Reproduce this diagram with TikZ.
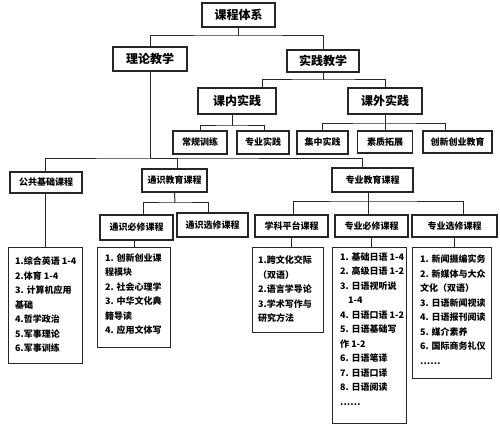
\documentclass[tikz,border=0pt]{standalone}
\usepackage{fontspec}
\setmainfont{Noto Sans CJK SC}
\begin{document}
\begin{tikzpicture}[x=1pt,y=-1pt,
  box/.style={draw=black!85, line width=1.1pt, inner sep=0pt, font=\bfseries\fontsize{12}{14}\selectfont},
  sbox/.style={box, font=\bfseries\fontsize{9}{11}\selectfont},
  lbox/.style={draw=black!85, line width=1.1pt, inner sep=0pt, anchor=north west},
  ltext/.style={inner sep=0pt, anchor=north west, align=left, font=\bfseries\fontsize{9}{14.5}\selectfont},
  conn/.style={draw=black!85, line width=1pt}]
\useasboundingbox (0,0) rectangle (500,430);
% level 1-2
\node[box, minimum width=73pt, minimum height=24pt] (top) at (238.5,15) {课程体系};
\node[box, minimum width=74pt, minimum height=24pt] (ll) at (150,59) {理论教学};
\node[box, minimum width=72pt, minimum height=22pt] (sj) at (323,61) {实践教学};
\node[box, minimum width=78pt, minimum height=26pt] (kn) at (237,101) {课内实践};
\node[box, minimum width=74pt, minimum height=26pt] (kw) at (385,101) {课外实践};
\node[sbox, minimum width=54pt, minimum height=23pt] (cg) at (200,142.5) {常规训练};
\node[sbox, minimum width=52pt, minimum height=23pt] (zs) at (263,142.5) {专业实践};
\node[sbox, minimum width=51pt, minimum height=23pt] (jz) at (322.5,142.5) {集中实践};
\node[sbox, minimum width=55pt, minimum height=22pt] (sz) at (385,142) {素质拓展};
\node[sbox, minimum width=69pt, minimum height=22pt] (cx) at (457.5,142) {创新创业教育};
% level 3-4
\node[sbox, minimum width=72pt, minimum height=21pt] (gg) at (46,182.5) {公共基础课程};
\node[sbox, minimum width=65pt, minimum height=23pt] (tj) at (174.5,180.5) {通识教育课程};
\node[sbox, minimum width=81pt, minimum height=24pt] (zj) at (372.5,180) {专业教育课程};
\node[sbox, minimum width=73pt, minimum height=25pt] (tb) at (136.5,227.5) {通识必修课程};
\node[sbox, minimum width=71pt, minimum height=24pt] (tx) at (212.5,225) {通识选修课程};
\node[sbox, minimum width=73pt, minimum height=22pt] (xk) at (291.5,226) {学科平台课程};
\node[sbox, minimum width=73pt, minimum height=22pt] (zb) at (371.5,226) {专业必修课程};
\node[sbox, minimum width=85pt, minimum height=22pt] (zx) at (454.5,226) {专业选修课程};
% lists
\node[lbox, minimum width=74pt, minimum height=116pt] (L1) at (8,247) {};
\node[lbox, minimum width=73pt, minimum height=100pt] (L2) at (97,247) {};
\node[lbox, minimum width=71pt, minimum height=85pt] (L3) at (252,247) {};
\node[lbox, minimum width=74pt, minimum height=176pt] (L4) at (332,247) {};
\node[lbox, minimum width=79pt, minimum height=131pt] (L5) at (412,247) {};
\node[ltext] (T1) at ([shift={(7pt,-10pt)}]L1.north west) {1.综合英语 1-4\\2.体育 1-4\\3. 计算机应用\\基础\\4.哲学政治\\5.军事理论\\6.军事训练};
\node[ltext] (T2) at ([shift={(8pt,-6.5pt)}]L2.north west) {1. 创新创业课\\程模块\\2. 社会心理学\\3. 中华文化典\\籍导读\\4. 应用文体写};
\node[ltext] (T3) at ([shift={(6pt,-8.5pt)}]L3.north west) {1.跨文化交际\\（双语）\\2.语言学导论\\3.学术写作与\\研究方法};
\node[ltext] (T4) at ([shift={(8pt,-5.5pt)}]L4.north west) {1. 基础日语 1-4\\2. 高级日语 1-2\\3. 日语视听说\\\hspace*{8pt}1-4\\4. 日语口语 1-2\\5. 日语基础写\\作 1-2\\6. 日语笔译\\7. 日语口译\\8. 日语阅读\\……};
\node[ltext] (T5) at ([shift={(8pt,-7.5pt)}]L5.north west) {1. 新闻摄编实务\\2. 新媒体与大众\\文化（双语）\\3. 日语新闻视读\\4. 日语报刊阅读\\5. 媒介素养\\6. 国际商务礼仪\\……};
% junctions
\coordinate (j1) at (238.5,36);
\coordinate (j2) at (323,80);
\coordinate (j3) at (232,126);
\coordinate (j4) at (385,124);
\coordinate (j5) at (150,159);
\coordinate (j6) at (175,203);
\coordinate (j7) at (368,202);
% connectors
\draw[conn] (top.south) -- (j1);
\draw[conn] (ll.north) |- (j1) -| (sj.north);
\draw[conn] (sj.south) -- (j2);
\draw[conn] ([xshift=25pt]kn.north) |- (j2) -| (kw.north);
\draw[conn] ([xshift=-5pt]kn.south) -- (j3);
\draw[conn] (cg.north) |- (j3) -| ([xshift=1pt]zs.north);
\draw[conn] (kw.south) -- (sz.north);
\draw[conn] (jz.north) |- (j4) -| ([xshift=-12pt]cx.north);
\draw[conn] (ll.south) -- (j5);
\draw[conn] ([xshift=-1pt]gg.north) |- (j5) -| ([xshift=-10pt]zj.north);
\draw[conn] ([xshift=2.5pt]tj.north) |- (j5);
\draw[conn] (tj.south) -- (j6);
\draw[conn] ([xshift=6.5pt]tb.north) |- (j6) -| ([xshift=-4.5pt]tx.north);
\draw[conn] ([xshift=-4.5pt]zj.south) -- ([xshift=-3.5pt]zb.north);
\draw[conn] ([xshift=1.5pt]xk.north) |- (j7) -| ([xshift=8.5pt]zx.north);
\draw[conn] ([xshift=-1pt]gg.south) -- ([xshift=-1pt]L1.north -| gg.south);
\draw[conn] (L2.north) -- (L2.north |- tb.south);
\draw[conn] (xk.south) -- (xk.south |- L3.north);
\draw[conn] (zb.south) -- (zb.south |- L4.north);
\draw[conn] (zx.south) -- (zx.south |- L5.north);
\end{tikzpicture}
\end{document}
